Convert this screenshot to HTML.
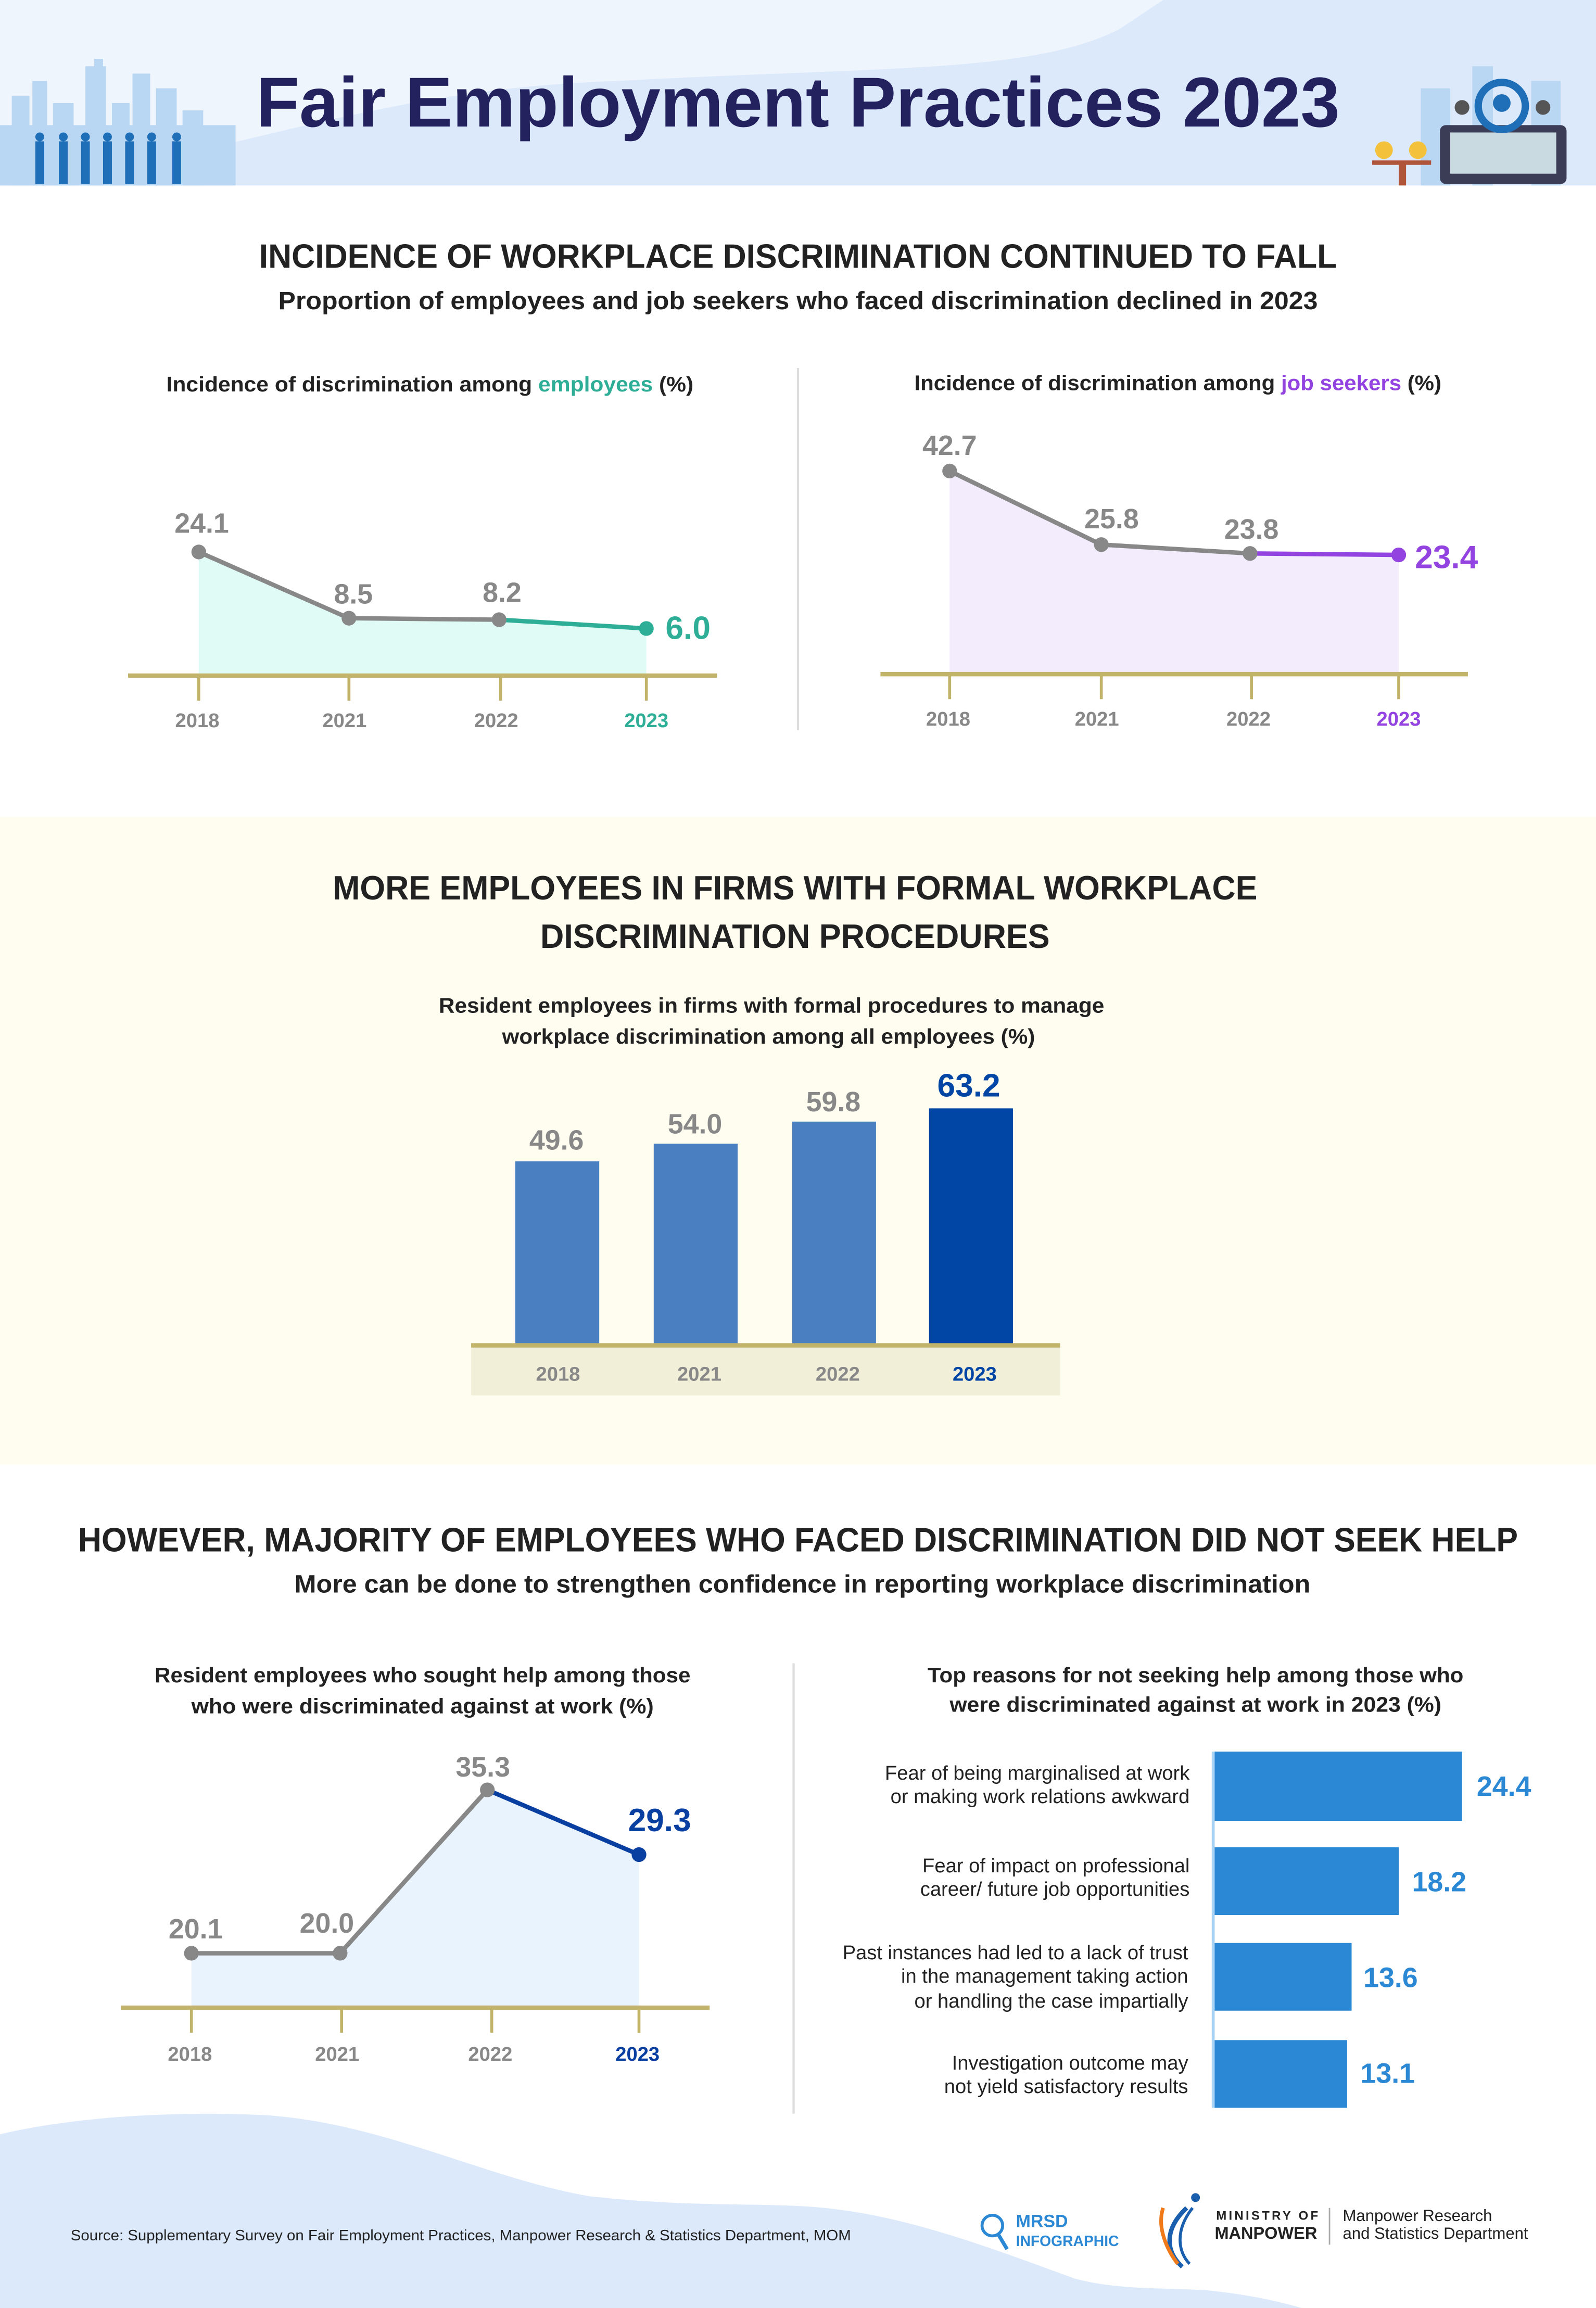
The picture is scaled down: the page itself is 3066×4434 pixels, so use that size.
<!DOCTYPE html>
<html><head><meta charset="utf-8"><style>
html,body{margin:0;padding:0;background:#fff}
svg{display:block}
text{font-family:"Liberation Sans",sans-serif}
</style></head><body>
<svg width="3066" height="4434" viewBox="0 0 1084 1568" preserveAspectRatio="none" xmlns="http://www.w3.org/2000/svg">
<!-- header -->
<rect x="0" y="0" width="1084" height="126" fill="#eef5fd"/>
<path d="M0 126 C150 110 250 60 420 55 C600 45 700 50 760 20 L790 0 L1084 0 L1084 126 Z" fill="#dce9fb"/>
<g fill="#b9d7f3">
<rect x="0" y="85" width="160" height="41"/>
<rect x="8" y="65" width="12" height="61"/><rect x="22" y="55" width="10" height="71"/>
<rect x="36" y="70" width="14" height="56"/><rect x="58" y="45" width="14" height="81"/>
<rect x="64" y="40" width="6" height="10"/><rect x="76" y="70" width="12" height="56"/>
<rect x="90" y="50" width="12" height="76"/><rect x="106" y="60" width="14" height="66"/>
<rect x="124" y="75" width="14" height="51"/>
</g>
<g fill="#1f6fb8">
<rect x="24" y="96" width="6" height="29"/><rect x="40" y="96" width="6" height="29"/>
<rect x="55" y="96" width="6" height="29"/><rect x="70" y="96" width="6" height="29"/>
<rect x="85" y="96" width="6" height="29"/><rect x="100" y="96" width="6" height="29"/>
<rect x="117" y="96" width="6" height="29"/>
<circle cx="27" cy="93" r="3"/><circle cx="43" cy="93" r="3"/><circle cx="58" cy="93" r="3"/><circle cx="73" cy="93" r="3"/><circle cx="88" cy="93" r="3"/><circle cx="103" cy="93" r="3"/><circle cx="120" cy="93" r="3"/>
</g>
<g>
<rect x="965" y="60" width="20" height="66" fill="#b9d7f3"/><rect x="1000" y="45" width="14" height="81" fill="#b9d7f3"/><rect x="1040" y="55" width="20" height="71" fill="#b9d7f3"/>
<rect x="978" y="85" width="86" height="40" rx="4" fill="#3a3d55"/>
<rect x="985" y="90" width="72" height="28" fill="#c9dbe0"/>
<circle cx="1020" cy="72" r="16" fill="none" stroke="#1f6fb8" stroke-width="5"/>
<circle cx="1020" cy="70" r="6" fill="#1f6fb8"/>
<circle cx="993" cy="73" r="5" fill="#555"/><circle cx="1048" cy="73" r="5" fill="#555"/>
<circle cx="940" cy="102" r="6" fill="#f4c23a"/><circle cx="963" cy="102" r="6" fill="#f4c23a"/>
<rect x="932" y="109" width="40" height="3" fill="#b0553a"/><rect x="950" y="110" width="5" height="16" fill="#b0553a"/>
</g>
<text x="542" y="86" text-anchor="middle" font-size="48" font-weight="bold" fill="#23225e" textLength="736" lengthAdjust="spacingAndGlyphs">Fair Employment Practices 2023</text>

<!-- section 1 -->
<text x="542" y="182" text-anchor="middle" font-size="23" font-weight="bold" fill="#222" textLength="732" lengthAdjust="spacingAndGlyphs">INCIDENCE OF WORKPLACE DISCRIMINATION CONTINUED TO FALL</text>
<text x="542" y="210" text-anchor="middle" font-size="17" font-weight="bold" fill="#222" textLength="706" lengthAdjust="spacingAndGlyphs">Proportion of employees and job seekers who faced discrimination declined in 2023</text>
<line x1="542" y1="250" x2="542" y2="496" stroke="#ddd" stroke-width="1.5"/>

<text x="292" y="266" text-anchor="middle" font-size="14.5" font-weight="bold" fill="#222" textLength="358" lengthAdjust="spacingAndGlyphs">Incidence of discrimination among <tspan fill="#2fae97">employees</tspan> (%)</text>
<path d="M135 375 L237 420 L339 421 L439 427 L439 459 L135 459 Z" fill="#e0fbf5"/>
<path d="M135 375 L237 420 L339 421" fill="none" stroke="#888" stroke-width="3"/>
<path d="M339 421 L439 427" fill="none" stroke="#2fae97" stroke-width="3"/>
<circle cx="135" cy="375" r="5" fill="#888"/><circle cx="237" cy="420" r="5" fill="#888"/><circle cx="339" cy="421" r="5" fill="#888"/><circle cx="439" cy="427" r="5" fill="#2fae97"/>
<line x1="87" y1="459" x2="487" y2="459" stroke="#c2b36a" stroke-width="3"/>
<g stroke="#c2b36a" stroke-width="2"><line x1="135" y1="459" x2="135" y2="476"/><line x1="237" y1="459" x2="237" y2="476"/><line x1="340" y1="459" x2="340" y2="476"/><line x1="439" y1="459" x2="439" y2="476"/></g>
<g font-size="19" font-weight="bold" fill="#888" text-anchor="middle">
<text x="137" y="362">24.1</text><text x="240" y="410">8.5</text><text x="341" y="409">8.2</text>
</g>
<text x="452" y="434" font-size="22" font-weight="bold" fill="#2fae97">6.0</text>
<g font-size="13.5" font-weight="bold" fill="#888" text-anchor="middle">
<text x="134" y="494">2018</text><text x="234" y="494">2021</text><text x="337" y="494">2022</text><text x="439" y="494" fill="#2fae97">2023</text>
</g>

<text x="800" y="265" text-anchor="middle" font-size="14.5" font-weight="bold" fill="#222" textLength="358" lengthAdjust="spacingAndGlyphs">Incidence of discrimination among <tspan fill="#9343e0">job seekers</tspan> (%)</text>
<path d="M645 320 L748 370 L849 376 L950 377 L950 458 L645 458 Z" fill="#f2ecfc"/>
<path d="M645 320 L748 370 L849 376" fill="none" stroke="#888" stroke-width="3"/>
<path d="M849 376 L950 377" fill="none" stroke="#9343e0" stroke-width="3"/>
<circle cx="645" cy="320" r="5" fill="#888"/><circle cx="748" cy="370" r="5" fill="#888"/><circle cx="849" cy="376" r="5" fill="#888"/><circle cx="950" cy="377" r="5" fill="#9343e0"/>
<line x1="598" y1="458" x2="997" y2="458" stroke="#c2b36a" stroke-width="3"/>
<g stroke="#c2b36a" stroke-width="2"><line x1="645" y1="458" x2="645" y2="475"/><line x1="748" y1="458" x2="748" y2="475"/><line x1="850" y1="458" x2="850" y2="475"/><line x1="950" y1="458" x2="950" y2="475"/></g>
<g font-size="19" font-weight="bold" fill="#888" text-anchor="middle">
<text x="645" y="309">42.7</text><text x="755" y="359">25.8</text><text x="850" y="366">23.8</text>
</g>
<text x="961" y="386" font-size="22" font-weight="bold" fill="#9343e0">23.4</text>
<g font-size="13.5" font-weight="bold" fill="#888" text-anchor="middle">
<text x="644" y="493">2018</text><text x="745" y="493">2021</text><text x="848" y="493">2022</text><text x="950" y="493" fill="#9343e0">2023</text>
</g>

<!-- section 2 -->
<rect x="0" y="555" width="1084" height="440" fill="#fefdf0"/>
<text x="540" y="611" text-anchor="middle" font-size="23" font-weight="bold" fill="#222" textLength="628" lengthAdjust="spacingAndGlyphs">MORE EMPLOYEES IN FIRMS WITH FORMAL WORKPLACE</text>
<text x="540" y="644" text-anchor="middle" font-size="23" font-weight="bold" fill="#222" textLength="346" lengthAdjust="spacingAndGlyphs">DISCRIMINATION PROCEDURES</text>
<text x="524" y="688" text-anchor="middle" font-size="14.5" font-weight="bold" fill="#222" textLength="452" lengthAdjust="spacingAndGlyphs">Resident employees in firms with formal procedures to manage</text>
<text x="522" y="709" text-anchor="middle" font-size="14.5" font-weight="bold" fill="#222" textLength="362" lengthAdjust="spacingAndGlyphs">workplace discrimination among all employees (%)</text>
<rect x="320" y="915" width="400" height="33" fill="#f2efd9"/>
<rect x="350" y="789" width="57" height="125" fill="#4a80c2"/>
<rect x="444" y="777" width="57" height="137" fill="#4a80c2"/>
<rect x="538" y="762" width="57" height="152" fill="#4a80c2"/>
<rect x="631" y="753" width="57" height="161" fill="#0145a5"/>
<line x1="320" y1="914" x2="720" y2="914" stroke="#c2b36a" stroke-width="3"/>
<g font-size="19" font-weight="bold" fill="#888" text-anchor="middle">
<text x="378" y="781">49.6</text><text x="472" y="770">54.0</text><text x="566" y="755">59.8</text>
</g>
<text x="658" y="745" text-anchor="middle" font-size="22" font-weight="bold" fill="#0145a5">63.2</text>
<g font-size="13.5" font-weight="bold" fill="#888" text-anchor="middle">
<text x="379" y="938">2018</text><text x="475" y="938">2021</text><text x="569" y="938">2022</text><text x="662" y="938" fill="#0145a5">2023</text>
</g>

<!-- section 3 -->
<text x="542" y="1054" text-anchor="middle" font-size="23" font-weight="bold" fill="#222" textLength="978" lengthAdjust="spacingAndGlyphs">HOWEVER, MAJORITY OF EMPLOYEES WHO FACED DISCRIMINATION DID NOT SEEK HELP</text>
<text x="545" y="1082" text-anchor="middle" font-size="17" font-weight="bold" fill="#222" textLength="690" lengthAdjust="spacingAndGlyphs">More can be done to strengthen confidence in reporting workplace discrimination</text>
<line x1="539" y1="1130" x2="539" y2="1436" stroke="#ddd" stroke-width="1.5"/>

<text x="287" y="1143" text-anchor="middle" font-size="14.5" font-weight="bold" fill="#222" textLength="364" lengthAdjust="spacingAndGlyphs">Resident employees who sought help among those</text>
<text x="287" y="1164" text-anchor="middle" font-size="14.5" font-weight="bold" fill="#222" textLength="314" lengthAdjust="spacingAndGlyphs">who were discriminated against at work (%)</text>
<path d="M130 1327 L231 1327 L331 1216 L434 1260 L434 1364 L130 1364 Z" fill="#e8f3fd"/>
<path d="M130 1327 L231 1327 L331 1216" fill="none" stroke="#888" stroke-width="3"/>
<path d="M331 1216 L434 1260" fill="none" stroke="#0a3fa2" stroke-width="3"/>
<circle cx="130" cy="1327" r="5" fill="#888"/><circle cx="231" cy="1327" r="5" fill="#888"/><circle cx="331" cy="1216" r="5" fill="#888"/><circle cx="434" cy="1260" r="5" fill="#0a3fa2"/>
<line x1="82" y1="1364" x2="482" y2="1364" stroke="#c2b36a" stroke-width="3"/>
<g stroke="#c2b36a" stroke-width="2"><line x1="130" y1="1364" x2="130" y2="1381"/><line x1="232" y1="1364" x2="232" y2="1381"/><line x1="334" y1="1364" x2="334" y2="1381"/><line x1="434" y1="1364" x2="434" y2="1381"/></g>
<g font-size="19" font-weight="bold" fill="#888" text-anchor="middle">
<text x="133" y="1317">20.1</text><text x="222" y="1313">20.0</text><text x="328" y="1207">35.3</text>
</g>
<text x="448" y="1244" text-anchor="middle" font-size="22" font-weight="bold" fill="#0a3fa2">29.3</text>
<g font-size="13.5" font-weight="bold" fill="#888" text-anchor="middle">
<text x="129" y="1400">2018</text><text x="229" y="1400">2021</text><text x="333" y="1400">2022</text><text x="433" y="1400" fill="#0a3fa2">2023</text>
</g>

<text x="812" y="1143" text-anchor="middle" font-size="14.5" font-weight="bold" fill="#222" textLength="364" lengthAdjust="spacingAndGlyphs">Top reasons for not seeking help among those who</text>
<text x="812" y="1163" text-anchor="middle" font-size="14.5" font-weight="bold" fill="#222" textLength="334" lengthAdjust="spacingAndGlyphs">were discriminated against at work in 2023 (%)</text>
<line x1="824" y1="1190" x2="824" y2="1432" stroke="#a9d3f5" stroke-width="2"/>
<g fill="#2a88d4">
<rect x="825" y="1190" width="168" height="47"/>
<rect x="825" y="1255" width="125" height="46"/>
<rect x="825" y="1320" width="93" height="46"/>
<rect x="825" y="1386" width="90" height="46"/>
</g>
<g font-size="19" font-weight="bold" fill="#2a88d4">
<text x="1003" y="1220">24.4</text><text x="959" y="1285">18.2</text><text x="926" y="1350">13.6</text><text x="924" y="1415">13.1</text>
</g>
<g font-size="13.5" fill="#222" text-anchor="end">
<text x="808" y="1209">Fear of being marginalised at work</text>
<text x="808" y="1225">or making work relations awkward</text>
<text x="808" y="1272">Fear of impact on professional</text>
<text x="808" y="1288">career/ future job opportunities</text>
<text x="807" y="1331">Past instances had led to a lack of trust</text>
<text x="807" y="1347">in the management taking action</text>
<text x="807" y="1364">or handling the case impartially</text>
<text x="807" y="1406">Investigation outcome may</text>
<text x="807" y="1422">not yield satisfactory results</text>
</g>

<!-- footer -->
<path d="M0 1450 C50 1438 120 1434 180 1437 C260 1442 330 1480 400 1492 C470 1500 520 1496 560 1500 C620 1506 680 1530 730 1548 C760 1556 790 1554 820 1556 C850 1559 870 1564 884 1568 L0 1568 Z" fill="#dbe9fb"/>
<text x="48" y="1522" font-size="10" fill="#222" textLength="530" lengthAdjust="spacingAndGlyphs">Source: Supplementary Survey on Fair Employment Practices, Manpower Research &amp; Statistics Department, MOM</text>
<circle cx="674" cy="1512" r="7" fill="none" stroke="#2a88d4" stroke-width="2"/>
<line x1="678" y1="1518" x2="684" y2="1528" stroke="#2a88d4" stroke-width="2.5"/>
<text x="690" y="1513" font-size="12" font-weight="bold" fill="#2a88d4">MRSD</text>
<text x="690" y="1526" font-size="10" font-weight="bold" fill="#2a88d4">INFOGRAPHIC</text>
<circle cx="812" cy="1493" r="3" fill="#1a5fae"/>
<path d="M806 1500 C790 1515 792 1530 803 1540" fill="none" stroke="#1a5fae" stroke-width="3"/>
<path d="M810 1500 C798 1515 800 1530 808 1538" fill="none" stroke="#1a5fae" stroke-width="2"/>
<path d="M790 1500 C785 1515 795 1532 800 1538" fill="none" stroke="#f07a1a" stroke-width="2.5"/>
<text x="826" y="1508" font-size="8.5" font-weight="bold" fill="#222" letter-spacing="1.5">MINISTRY OF</text>
<text x="825" y="1521" font-size="11.5" font-weight="bold" fill="#222">MANPOWER</text>
<line x1="903" y1="1500" x2="903" y2="1525" stroke="#aaa"/>
<text x="912" y="1509" font-size="11" fill="#222">Manpower Research</text>
<text x="912" y="1521" font-size="11" fill="#222">and Statistics Department</text>
</svg>
</body></html>
